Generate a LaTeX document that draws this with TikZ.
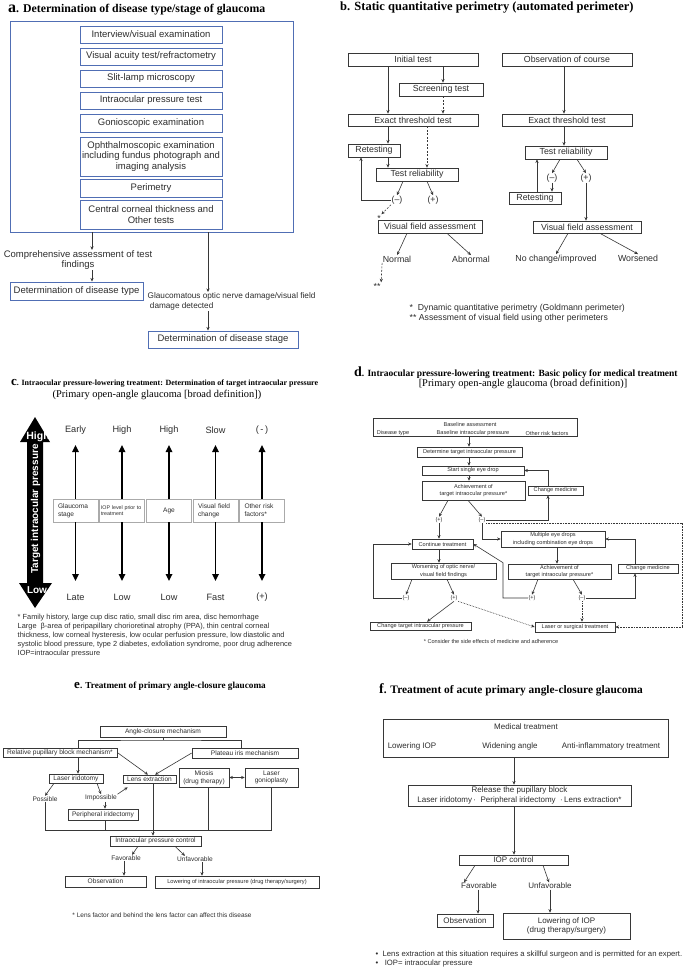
\documentclass[tikz,border=0pt]{standalone}
\usepackage{fontspec}
\setmainfont{Liberation Sans}
\newfontfamily\tmr{Liberation Serif}
\usetikzlibrary{arrows.meta}
\definecolor{bluec}{RGB}{80,110,180}
\definecolor{txtc}{RGB}{45,45,45}
\definecolor{linec}{RGB}{55,55,55}
\definecolor{cgray}{RGB}{170,170,170}
\newcommand\fs[2]{\fontsize{#1}{#2}\selectfont}
\newcommand\bx[7][]{\node[#1,minimum width={#4-#2},minimum height={#5-#3}] (#6) at ({(#2+#4)/2},{(#3+#5)/2}) {#7};}
\tikzset{
 ln/.style={draw=linec,line width=0.6pt},
 arr/.style={ln,-{Stealth[length=3.6pt,width=3.2pt]}},
 darr/.style={arr,dash pattern=on 2pt off 1.5pt},
 dotarr/.style={arr,dash pattern=on 0.7pt off 0.9pt},
 bb/.style={draw=linec,line width=0.7pt,inner sep=0pt,align=center,text=txtc},
 abx/.style={bb,draw=bluec,line width=0.9pt,font=\fs{9.5}{10.5}},
 bbx/.style={bb,font=\fs{8.8}{10}},
 dbx/.style={bb,line width=0.6pt,font=\fs{5.6}{7.6}},
 ebx/.style={bb,line width=0.6pt,font=\fs{6.6}{7.8}},
 fbx/.style={bb,line width=0.7pt,font=\fs{8}{9.5}},
 cbx/.style={draw=cgray,line width=0.7pt,fill=white,inner xsep=5pt,inner ysep=0pt,text width=35pt,minimum height=23pt,align=left,font=\fs{6.6}{7.8},text=txtc},
 carr/.style={draw=black,line width=1.6pt,-{Triangle[length=7pt,width=6.5pt]}},
 lb/.style={inner sep=0.5pt,text=txtc,align=center},
 ttl/.style={inner sep=0pt,text=black},
}
\begin{document}
\begin{tikzpicture}[x=1pt,y=-1pt]
\useasboundingbox (0,0) rectangle (685,974);
\fill[white] (0,0) rectangle (685,974);

% ---------------- Panel a
\node[ttl,anchor=west] (ta) at (8,10) {\tmr\bfseries\fs{16}{16}a\fs{11.8}{12}. Determination of disease type/stage of glaucoma};
\bx[abx]{10}{21}{293}{232}{aout}{}
\bx[abx]{80}{26}{222}{43}{a1}{Interview/visual examination}
\bx[abx]{80}{48}{222}{65}{a2}{Visual acuity test/refractometry}
\bx[abx]{80}{70}{222}{87}{a3}{Slit-lamp microscopy}
\bx[abx]{80}{92}{222}{109}{a4}{Intraocular pressure test}
\bx[abx]{80}{114}{222}{132}{a5}{Gonioscopic examination}
\bx[abx]{80}{137}{222}{176}{a6}{Ophthalmoscopic examination\\including fundus photograph and\\imaging analysis}
\bx[abx]{80}{179}{222}{197}{a7}{Perimetry}
\bx[abx]{80}{200}{222}{229}{a8}{Central corneal thickness and\\Other tests}
\node[lb,font=\fs{9.5}{10}] (acomp) at (78,260) {Comprehensive assessment of test\\findings};
\bx[abx]{10}{282}{143}{300}{atype}{Determination of disease type}
\node[lb,font=\fs{8.2}{10},align=left,anchor=north west] (aglau) at (147,292) {Glaucomatous optic nerve damage/visual field\\\ damage detected};
\bx[abx]{148}{331}{298}{348}{astage}{Determination of disease stage}
\draw[arr] (92,0|-aout.south) -- (92,0|-acomp.north);
\draw[arr] (92,0|-acomp.south) -- (92,0|-atype.north);
\draw[arr] (208,0|-aout.south) -- (208,0|-aglau.north);
\draw[arr] (208,0|-aglau.south) -- (208,0|-astage.north);

% ---------------- Panel b
\node[ttl,anchor=west] (tb) at (340,8) {\tmr\bfseries\fs{12.5}{13}b. Static quantitative perimetry (automated perimeter)};
\bx[bbx]{348}{53}{478}{66}{bi}{Initial test}
\bx[bbx]{399}{83}{483}{96}{bs}{Screening test}
\bx[bbx]{348}{114}{478}{126}{be}{Exact threshold test}
\bx[bbx]{348}{144}{400}{157}{br}{Retesting}
\bx[bbx]{376}{168}{458}{181}{bt}{Test reliability}
\node[lb,font=\fs{8.8}{10}] (bm) at (397,200) {(–)};
\node[lb,font=\fs{8.8}{10}] (bp) at (433,200) {(+)};
\node[lb,font=\fs{8.8}{10}] (bst) at (379,218) {*};
\bx[bbx]{378}{220}{482}{233}{bv}{Visual field assessment}
\node[lb,font=\fs{8.8}{10}] (bn) at (397,259) {Normal};
\node[lb,font=\fs{8.8}{10}] (ba) at (471,259) {Abnormal};
\node[lb,font=\fs{8.8}{10}] (bss) at (377,286) {**};
\bx[bbx]{502}{53}{632}{66}{bo}{Observation of course}
\bx[bbx]{502}{114}{632}{126}{be2}{Exact threshold test}
\bx[bbx]{525}{146}{607}{159}{bt2}{Test reliability}
\node[lb,font=\fs{8.8}{10}] (bm2) at (552,178) {(–)};
\node[lb,font=\fs{8.8}{10}] (bp2) at (586,178) {(+)};
\bx[bbx]{509}{192}{561}{204}{br2}{Retesting}
\bx[bbx]{533}{221}{641}{233}{bv2}{Visual field assessment}
\node[lb,font=\fs{8.8}{10}] (bnc) at (556,259) {No change/improved};
\node[lb,font=\fs{8.8}{10}] (bw) at (638,258) {Worsened};
\node[lb,font=\fs{8.7}{10},align=left,anchor=north west] (bfn) at (409,303) {*\ \ Dynamic quantitative perimetry (Goldmann perimeter)\\** Assessment of visual field using other perimeters};
\draw[arr] (388,0|-bi.south) -- (388,0|-be.north);
\draw[arr] (443,0|-bi.south) -- (443,0|-bs.north);
\draw[darr] (443,0|-bs.south) -- (443,0|-be.north);
\draw[arr] (388,0|-be.south) -- (388,0|-br.north);
\draw[arr] (388,0|-br.south) -- (388,0|-bt.north);
\draw[darr] (427,0|-be.south) -- (427,0|-bt.north);
\draw[arr] (403,0|-bt.south) -- (bm.north);
\draw[arr] (427,0|-bt.south) -- (bp.north);
\draw[arr] (bm.west) -- (361,0|-bm.west) -- (361,0|-br.south);
\draw[darr] (bm.south west) -- (bst.north east);
\draw[arr] (407,0|-bv.south) -- (bn.north);
\draw[arr] (447,0|-bv.south) -- (ba.north);
\draw[darr] (bn.south west) -- (bss.north east);
\draw[arr] (564,0|-bo.south) -- (564,0|-be2.north);
\draw[arr] (564,0|-be2.south) -- (564,0|-bt2.north);
\draw[arr] (560,0|-bt2.south) -- (bm2.north);
\draw[arr] (577,0|-bt2.south) -- (bp2.north);
\draw[arr] (bm2.south) -- (bm2.south|-br2.north);
\draw[arr] (537,0|-br2.north) -- (537,0|-bt2.south);
\draw[arr] (bp2.south) -- (bp2.south|-bv2.north);
\draw[arr] (568,0|-bv2.south) -- (bnc.north);
\draw[arr] (600,0|-bv2.south) -- (bw.north);

% ---------------- Panel c
\node[ttl,anchor=west] (tc) at (11,383) {\tmr\bfseries\fs{13}{13}c\fs{8}{8}. Intraocular pressure-lowering treatment: Determination of target intraocular pressure};
\node[ttl,font=\tmr\fs{10.4}{11}] (tc2) at (157,395) {(Primary open-angle glaucoma [broad definition])};
\fill[black] (35,417) -- (50,442) -- (43,442) -- (43,583) -- (52,583) -- (35,608) -- (19,583) -- (27,583) -- (27,442) -- (20,442) -- cycle;
\node[inner sep=0pt,text=white,font=\bfseries\fs{10.5}{11}] (chigh) at (38,437) {High};
\node[inner sep=0pt,text=white,font=\bfseries\fs{10}{11}] (clow) at (37,590) {Low};
\node[inner sep=0pt,text=white,font=\bfseries\fs{10}{11},rotate=90] (ctarget) at (35.5,509) {Target intraocular pressure};
\node[cbx] (c1) at (75.5,510.5) {Glaucoma\\stage};
\node[cbx,inner xsep=1.2pt,text width=42pt,font=\fs{5.3}{6.8}] (c2) at (122,510.5) {IOP level prior to\\treatment};
\node[cbx,align=center] (c3) at (169,510.5) {Age};
\node[cbx] (c4) at (215.5,510.5) {Visual field\\change};
\node[cbx] (c5) at (262,510.5) {Other risk\\factors*};
\foreach \n/\t/\b [count=\i] in {c1/Early/Late,c2/High/Low,c3/High/Low,c4/Slow/Fast,c5/(\,-\,)/(+)}{
  \node[lb,font=\fs{9.2}{10}] (ct\i) at (\n.north|-0,430) {\t};
  \node[lb,font=\fs{9.2}{10}] (cb\i) at (\n.south|-0,597) {\b};
  \draw[carr] (\n.north) -- (\n.north|-0,445);
  \draw[carr] (\n.south) -- (\n.south|-0,581);
}
\node[lb,font=\fs{7.4}{9},align=left,anchor=north west] (cfn) at (17,613) {* Family history, large cup disc ratio, small disc rim area, disc hemorrhage\\Large\ \ β-area of peripapillary chorioretinal atrophy (PPA), thin central corneal\\thickness, low corneal hysteresis, low ocular perfusion pressure, low diastolic and\\systolic blood pressure, type 2 diabetes, exfoliation syndrome, poor drug adherence\\IOP=intraocular pressure};

% ---------------- Panel d
\node[ttl,anchor=west] (td) at (354,373) {\tmr\bfseries\fs{14}{14}d\fs{9.5}{10}. Intraocular pressure-lowering treatment: Basic policy for medical treatment};
\node[ttl,font=\tmr\fs{10.4}{11}] (td2) at (523,384) {[Primary open-angle glaucoma (broad definition)]};
\bx[dbx]{373}{418}{577}{436}{d1}{}
\node[lb,font=\fs{5.6}{7}] (d1a) at (470,424) {Baseline assessment};
\node[lb,font=\fs{5.6}{7}] (d1b) at (393,433) {Disease type};
\node[lb,font=\fs{5.6}{7}] (d1c) at (473,433) {Baseline intraocular pressure};
\node[lb,font=\fs{5.6}{7}] (d1d) at (547,433) {Other risk factors};
\bx[dbx]{417}{447}{522}{457}{d2}{Determine target intraocular pressure}
\bx[dbx]{422}{466}{524}{475}{d3}{Start single eye drop}
\bx[dbx]{422}{481}{525}{500}{d4}{Achievement of\\target intraocular pressure*}
\bx[dbx]{528}{486}{583}{495}{d5}{Change medicine}
\node[lb,font=\fs{5.6}{7}] (dp1) at (439,520) {(+)};
\node[lb,font=\fs{5.6}{7}] (dm1) at (482,520) {(–)};
\bx[dbx]{412}{539}{473}{549}{d6}{Continue treatment}
\bx[dbx]{501}{531}{605}{547}{d7}{Multiple eye drops\\including combination eye drops}
\bx[dbx]{618}{564}{678}{573}{d8}{Change medicine}
\bx[dbx]{508}{564}{611}{579}{d9}{Achievement of\\target intraocular pressure*}
\node[lb,font=\fs{5.6}{7}] (dp2) at (532,598) {(+)};
\node[lb,font=\fs{5.6}{7}] (dm2) at (582,598) {(–)};
\bx[dbx]{391}{563}{496}{579}{d10}{Worsening of optic nerve/\\visual field findings}
\node[lb,font=\fs{5.6}{7}] (dm3) at (406,598) {(–)};
\node[lb,font=\fs{5.6}{7}] (dp3) at (454,598) {(+)};
\bx[dbx]{370}{622}{471}{630}{d11}{Change target intraocular pressure}
\bx[dbx]{535}{622}{615}{632}{d12}{Laser or surgical treatment}
\node[lb,font=\fs{5.6}{7}] (dfn) at (491,641) {* Consider the side effects of medicine and adherence};
\draw[arr] (469,0|-d1.south) -- (469,0|-d2.north);
\draw[arr] (469,0|-d2.south) -- (469,0|-d3.north);
\draw[arr] (469,0|-d3.south) -- (469,0|-d4.north);
\draw[arr] (548,0|-d5.north) -- (548,0|-d3.east) -- (d3.east);
\draw[arr] (448,0|-d4.south) -- (dp1.north);
\draw[arr] (468,0|-d4.south) -- (dm1.north);
\draw[arr] (dp1.south) -- (dp1.south|-d6.north);
\draw[arr] (dm1.east) -- (548,0|-dm1.east) -- (548,0|-d5.south);
\coordinate (dcorner) at (682,523);
\draw[dotarr] (dm1.east|-dcorner) -- (dcorner) -- (dcorner|-d12.east) -- (d12.east);
\draw[arr] (dm1.south) -- (dm1.south|-d7.west) -- (d7.west);
\draw[arr] (635,0|-d8.north) -- (635,0|-d7.east) -- (d7.east);
\draw[arr] (557,0|-d7.south) -- (557,0|-d9.north);
\draw[arr] (538,0|-d9.south) -- (dp2.north);
\draw[arr] (573,0|-d9.south) -- (dm2.north);
\draw[arr] (dp2.west) -- (503,0|-dp2.west) -- (503,0|-d10.north) -- (d6.east);
\draw[arr] (dm2.east) -- (635,0|-dm2.east) -- (635,0|-d8.south);
\draw[dotarr] (dm2.south) -- (dm2.south|-d12.north);
\draw[arr] (439,0|-d6.south) -- (439,0|-d10.north);
\draw[arr] (412,0|-d10.south) -- (dm3.north);
\draw[arr] (447,0|-d10.south) -- (dp3.north);
\draw[arr] (dm3.west) -- (373,0|-dm3.west) -- (373,0|-d6.west) -- (d6.west);
\draw[arr] (dp3.south) -- (427,0|-d11.north);
\draw[dotarr] (dp3.south east) -- (d12.west);

% ---------------- Panel e
\node[ttl] (te) at (170,686) {\tmr\bfseries\fs{13}{13}e\fs{9.2}{10}. Treatment of primary angle-closure glaucoma};
\bx[ebx]{100}{726}{226}{737}{e1}{Angle-closure mechanism}
\bx[ebx]{3}{748}{117}{757}{e2}{Relative pupillary block mechanism*}
\bx[ebx]{192}{748}{298}{758}{e3}{Plateau iris mechanism}
\bx[ebx]{49}{774}{103}{783}{e4}{Laser iridotomy}
\bx[ebx]{123}{775}{176}{783}{e5}{Lens extraction}
\bx[ebx]{179}{768}{229}{787}{e6}{Miosis\\(drug therapy)}
\bx[ebx]{245}{768}{298}{787}{e7}{Laser\\gonioplasty}
\node[lb,font=\fs{6.6}{8}] (ep) at (45,799) {Possible};
\node[lb,font=\fs{6.6}{8}] (ei) at (101,798) {Impossible};
\bx[ebx]{68}{809}{138}{820}{e8}{Peripheral iridectomy}
\bx[ebx]{110}{836}{201}{846}{e9}{Intraocular pressure control}
\node[lb,font=\fs{6.6}{8}] (ef) at (126,858) {Favorable};
\node[lb,font=\fs{6.6}{8}] (eu) at (195,859) {Unfavorable};
\bx[ebx]{65}{876}{146}{887}{e10}{Observation}
\bx[ebx,font=\fs{5.7}{7}]{155}{876}{319}{888}{e11}{Lowering of intraocular pressure (drug therapy/surgery)}
\node[lb,font=\fs{6.5}{8}] (efn) at (162,915) {* Lens factor and behind the lens factor can affect this disease};
\coordinate (ebus) at (162,740);
\coordinate (ebus2) at (45,830);
\draw[ln] (e1.south) -- (e1.south|-ebus);
\draw[ln] (78,0|-e2.north) |- (ebus) -| (241,0|-e3.north);
\draw[arr] (e2.east) -- (148,0|-e5.north);
\draw[arr] (e3.west) -- (155,0|-e5.north);
\draw[arr] (78,0|-e2.south) -- (78,0|-e4.north);
\draw[arr] (54,0|-e4.south) -- (ep.north);
\draw[arr] (97,0|-e4.south) -- (ei.north);
\draw[arr] (ei.north east) -- ([shift={(5,4)}]e5.south west);
\draw[arr] (105,0|-ei.south) -- (105,0|-e8.north);
\draw[ln] (ep.south) -- (ep.south|-ebus2) -- (271,0|-ebus2) -- (271,0|-e7.south);
\draw[ln] (105,0|-e8.south) -- (105,0|-ebus2);
\draw[ln] (208,0|-e6.south) -- (208,0|-ebus2);
\draw[arr] (153,0|-e5.south) -- (153,0|-e9.north);
\draw[ln,{Stealth[length=3.6pt,width=3.2pt]}-{Stealth[length=3.6pt,width=3.2pt]}] (e6.east) -- (e7.west);
\draw[arr] (138,0|-e9.south) -- ([shift={(6,0)}]ef.north);
\draw[arr] (175,0|-e9.south) -- ([shift={(-10,0)}]eu.north);
\draw[arr] (124,0|-ef.south) -- (124,0|-e10.north);
\draw[arr] (202,0|-eu.south) -- (202,0|-e11.north);

% ---------------- Panel f
\node[ttl] (tf) at (511,690) {\tmr\bfseries\fs{14}{14}f\fs{11.4}{12}. Treatment of acute primary angle-closure glaucoma};
\bx[fbx]{383}{719}{668}{757}{f1}{}
\node[lb,font=\fs{8}{9}] (f1a) at (526,727) {Medical treatment};
\node[lb,font=\fs{8}{9}] (f1b) at (412,746) {Lowering IOP};
\node[lb,font=\fs{8}{9}] (f1c) at (510,746) {Widening angle};
\node[lb,font=\fs{8}{9}] (f1d) at (611,746) {Anti-inflammatory treatment};
\bx[fbx]{408}{785}{631}{806}{f2}{Release the pupillary block\\Laser iridotomy\,·\ \ Peripheral iridectomy\ \ ·\,Lens extraction*}
\bx[fbx]{459}{855}{568}{865}{f3}{IOP control}
\node[lb,font=\fs{8}{9}] (ff) at (479,886) {Favorable};
\node[lb,font=\fs{8}{9}] (fu) at (550,886) {Unfavorable};
\bx[fbx]{437}{914}{493}{927}{f4}{Observation}
\bx[fbx]{503}{913}{630}{939}{f5}{Lowering of IOP\\(drug therapy/surgery)}
\node[lb,font=\fs{7.7}{9},align=left,anchor=north west] (ffn) at (375,950) {•\ \ Lens extraction at this situation requires a skillful surgeon and is permitted for an expert.\\•\ \ \ IOP= intraocular pressure};
\draw[arr] (514,0|-f1.south) -- (514,0|-f2.north);
\draw[arr] (514,0|-f2.south) -- (514,0|-f3.north);
\draw[arr] (475,0|-f3.south) -- (464,0|-ff.north);
\draw[arr] (543,0|-f3.south) -- (549,0|-fu.north);
\draw[arr] (478,0|-ff.south) -- (478,0|-f4.north);
\draw[arr] (550,0|-fu.south) -- (550,0|-f5.north);
\end{tikzpicture}
\end{document}
